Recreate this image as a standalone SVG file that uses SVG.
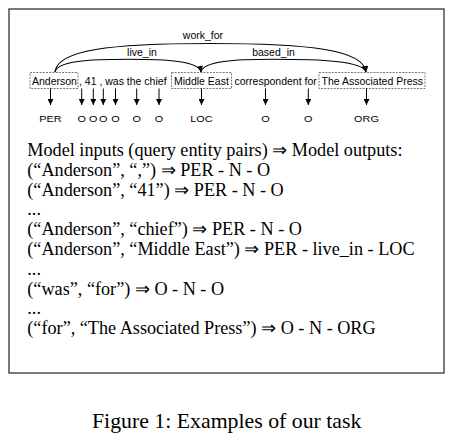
<svg xmlns="http://www.w3.org/2000/svg" width="450" height="441" viewBox="0 0 450 441">
<style>
.tok{font-family:"Liberation Sans",Arial,sans-serif;font-size:10.5px;fill:#000}
.rel{font-family:"Liberation Sans",Arial,sans-serif;font-size:10.5px;fill:#000;text-anchor:middle}
.lab{font-family:"Liberation Sans",Arial,sans-serif;font-size:8.5px;fill:#000;text-anchor:middle}
.ent{fill:none;stroke:#555;stroke-width:0.8;stroke-dasharray:2,1.2}
.arc{fill:none;stroke:#000;stroke-width:1.1}
.down{stroke:#000;stroke-width:1}
.body{font-family:"Liberation Serif","Times New Roman",serif;font-size:18.2px;fill:#000}
.cap{font-family:"Liberation Serif","Times New Roman",serif;font-size:21.8px;fill:#000;text-anchor:middle}
</style>
<defs>
<marker id="ah" viewBox="0 0 10 10" refX="10" refY="5" markerWidth="6.5" markerHeight="6" markerUnits="userSpaceOnUse" orient="auto">
<path d="M0,0 L10,5 L0,10 z" fill="#000"/>
</marker>
</defs>
<rect x="9" y="9" width="435" height="364" fill="#fff" stroke="#333" stroke-width="1.3"/>

<g id="tokens">
<g id="n-anderson"><rect class="ent" x="30" y="72.5" width="48" height="16"/><text class="tok" x="32" y="84.5">Anderson</text></g>
<g id="n-mid"><text class="tok" x="79" y="84.5">, 41 , was the chief</text></g>
<g id="n-middleeast"><rect class="ent" x="171.5" y="72.5" width="60" height="16"/><text class="tok" x="174" y="84.5">Middle East</text></g>
<g id="n-corr"><text class="tok" x="234.5" y="84.5">correspondent for</text></g>
<g id="n-ap"><rect class="ent" x="319" y="72.5" width="106" height="16"/><text class="tok" x="321.5" y="84.5">The Associated Press</text></g>
</g>

<g id="connectors">
<path class="arc" d="M55,72 C57,50 110,43.5 210,43.5 C310,43.5 364,50 366,72" marker-end="url(#ah)"/>
<path class="arc" d="M55,72 C57,61 90,59.3 128,59.3 C166,59.3 199,61 201,72" marker-end="url(#ah)"/>
<path class="arc" d="M201,72 C203,61 236,59.3 273,59.3 C320,59.3 363,61 366,72" marker-end="url(#ah)"/>
<line class="down" x1="50.5" y1="88.5" x2="50.5" y2="105" marker-end="url(#ah)"/>
<line class="down" x1="81.7" y1="88.5" x2="81.7" y2="105" marker-end="url(#ah)"/>
<line class="down" x1="93.3" y1="88.5" x2="93.3" y2="105" marker-end="url(#ah)"/>
<line class="down" x1="103.3" y1="88.5" x2="103.3" y2="105" marker-end="url(#ah)"/>
<line class="down" x1="115.5" y1="88.5" x2="115.5" y2="105" marker-end="url(#ah)"/>
<line class="down" x1="136.7" y1="88.5" x2="136.7" y2="105" marker-end="url(#ah)"/>
<line class="down" x1="159" y1="88.5" x2="159" y2="105" marker-end="url(#ah)"/>
<line class="down" x1="201.5" y1="88.5" x2="201.5" y2="105" marker-end="url(#ah)"/>
<line class="down" x1="265.5" y1="88.5" x2="265.5" y2="105" marker-end="url(#ah)"/>
<line class="down" x1="308.3" y1="88.5" x2="308.3" y2="105" marker-end="url(#ah)"/>
<line class="down" x1="366.5" y1="88.5" x2="366.5" y2="105" marker-end="url(#ah)"/>
<text class="rel" x="203" y="39">work_for</text>
<text class="rel" x="142" y="55.5">live_in</text>
<text class="rel" x="273.5" y="55.5">based_in</text>
</g>

<g id="labels">
<text class="lab" transform="translate(50.5,121.7) scale(1.28,1)">PER</text>
<text class="lab" transform="translate(81.7,121.7) scale(1.28,1)">O</text>
<text class="lab" transform="translate(93.3,121.7) scale(1.28,1)">O</text>
<text class="lab" transform="translate(103.3,121.7) scale(1.28,1)">O</text>
<text class="lab" transform="translate(115.5,121.7) scale(1.28,1)">O</text>
<text class="lab" transform="translate(136.7,121.7) scale(1.28,1)">O</text>
<text class="lab" transform="translate(159,121.7) scale(1.28,1)">O</text>
<text class="lab" transform="translate(201.5,121.7) scale(1.28,1)">LOC</text>
<text class="lab" transform="translate(265.5,121.7) scale(1.28,1)">O</text>
<text class="lab" transform="translate(308.3,121.7) scale(1.28,1)">O</text>
<text class="lab" transform="translate(366.5,121.7) scale(1.28,1)">ORG</text>
</g>

<g id="body">
<text class="body" x="27.3" y="156">Model inputs (query entity pairs) ⇒ Model outputs:</text>
<text class="body" x="27.3" y="175.8">(“Anderson”, “,”) ⇒ PER - N - O</text>
<text class="body" x="27.3" y="195.6">(“Anderson”, “41”) ⇒ PER - N - O</text>
<text class="body" x="27.3" y="215.4">...</text>
<text class="body" x="27.3" y="235.2">(“Anderson”, “chief”) ⇒ PER - N - O</text>
<text class="body" x="27.3" y="255">(“Anderson”, “Middle East”) ⇒ PER - live_in - LOC</text>
<text class="body" x="27.3" y="274.8">...</text>
<text class="body" x="27.3" y="294.6">(“was”, “for”) ⇒ O - N - O</text>
<text class="body" x="27.3" y="314.4">...</text>
<text class="body" x="27.3" y="334.2">(“for”, “The Associated Press”) ⇒ O - N - ORG</text>
</g>

<text class="cap" x="226.7" y="428.3">Figure 1: Examples of our task</text>
</svg>
